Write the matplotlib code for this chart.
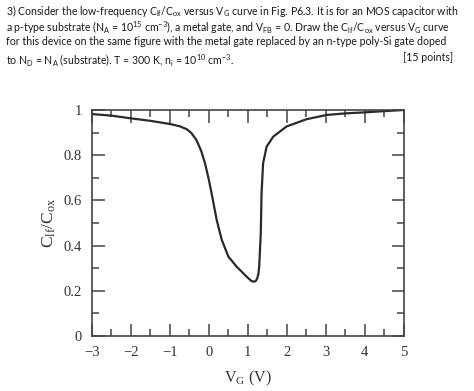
import numpy as np
import matplotlib.pyplot as plt
from matplotlib.ticker import MultipleLocator, FixedLocator

plt.rcParams['mathtext.default'] = 'regular'

# C_lf/C_ox versus V_G
vg = [-3.0, -2.5, -2.0, -1.5, -1.0, -0.75, -0.57, -0.45, -0.32, -0.2, -0.1, 0.0, 0.07,
      0.2, 0.33, 0.5, 0.71, 0.97, 1.08, 1.14, 1.2, 1.24, 1.27, 1.29, 1.31, 1.33, 1.35,
      1.39, 1.48, 1.65, 1.99, 2.5, 3.02, 3.5, 4.04, 4.5, 5.0]
c_ratio = [0.982, 0.975, 0.963, 0.952, 0.938, 0.928, 0.915, 0.898, 0.867, 0.82, 0.764,
           0.69, 0.63, 0.513, 0.425, 0.351, 0.307, 0.262, 0.245, 0.240, 0.243, 0.255,
           0.275, 0.307, 0.38, 0.454, 0.63, 0.764, 0.838, 0.882, 0.927, 0.959, 0.978,
           0.985, 0.99, 0.995, 1.0]

xticks = [-3, -2, -1, 0, 1, 2, 3, 4, 5]
xticklabels = ['\u22123', '\u22122', '\u22121', '0', '1', '2', '3', '4', '5']
yticks = [0, 0.2, 0.4, 0.6, 0.8, 1]
yticklabels = ['0', '0.2', '0.4', '0.6', '0.8', '1']

question = [
    "3) Consider the low-frequency C$_{lf}$/C$_{ox}$ versus V$_{G}$ curve in Fig. P6.3. It is for an MOS capacitor with",
    "a p-type substrate (N$_{A}$ = 10$^{15}$ cm$^{-3}$), a metal gate, and V$_{FB}$ = 0. Draw the C$_{lf}$/C$_{ox}$ versus V$_{G}$ curve",
    "for this device on the same figure with the metal gate replaced by an n-type poly-Si gate doped",
    "to N$_{D}$ = N$_{A}$ (substrate). T = 300 K, n$_{i}$ = 10$^{10}$ cm$^{-3}$.",
]

fig = plt.figure(figsize=(4.74, 3.91), dpi=100)
ax = fig.add_axes([0.194, 0.1407, 0.658, 0.578])

ax.plot(vg, c_ratio, color='#2a2a2a', lw=1.6)
ax.set_xlim(-3, 5)
ax.set_ylim(0, 1)

serif = 'Liberation Serif'
ax.xaxis.set_major_locator(FixedLocator(xticks))
ax.xaxis.set_minor_locator(MultipleLocator(0.5))
ax.yaxis.set_major_locator(FixedLocator(yticks))
ax.yaxis.set_minor_locator(MultipleLocator(0.1))
ax.set_xticklabels(xticklabels, fontfamily=serif, fontsize=10.5, color='#333333')
ax.set_yticklabels(yticklabels, fontfamily=serif, fontsize=10.5, color='#333333')
ax.tick_params(which='both', direction='in', top=True, right=True, color='#444444', width=1.1)
ax.tick_params(which='major', length=9, pad=7)
ax.tick_params(which='minor', length=5)
for s in ax.spines.values():
    s.set_color('#444444')
    s.set_linewidth(1.2)

ax.set_xlabel('V$_{G}$ (V)', fontfamily=serif, fontsize=11.5, color='#333333', labelpad=7)
ax.set_ylabel('C$_{lf}$/C$_{ox}$', fontfamily=serif, fontsize=12.5, color='#333333', labelpad=4)

y = 0.992
for line in question:
    fig.text(0.013, y, line, fontfamily='Lato', fontsize=7.6, color='#1a1a1a', va='top')
    y -= 0.042
fig.text(0.955, 0.992 - 3 * 0.042, '[15 points]', fontfamily='Lato', fontsize=7.6,
         color='#1a1a1a', va='top', ha='right')

fig.savefig('out.png', dpi=100)
